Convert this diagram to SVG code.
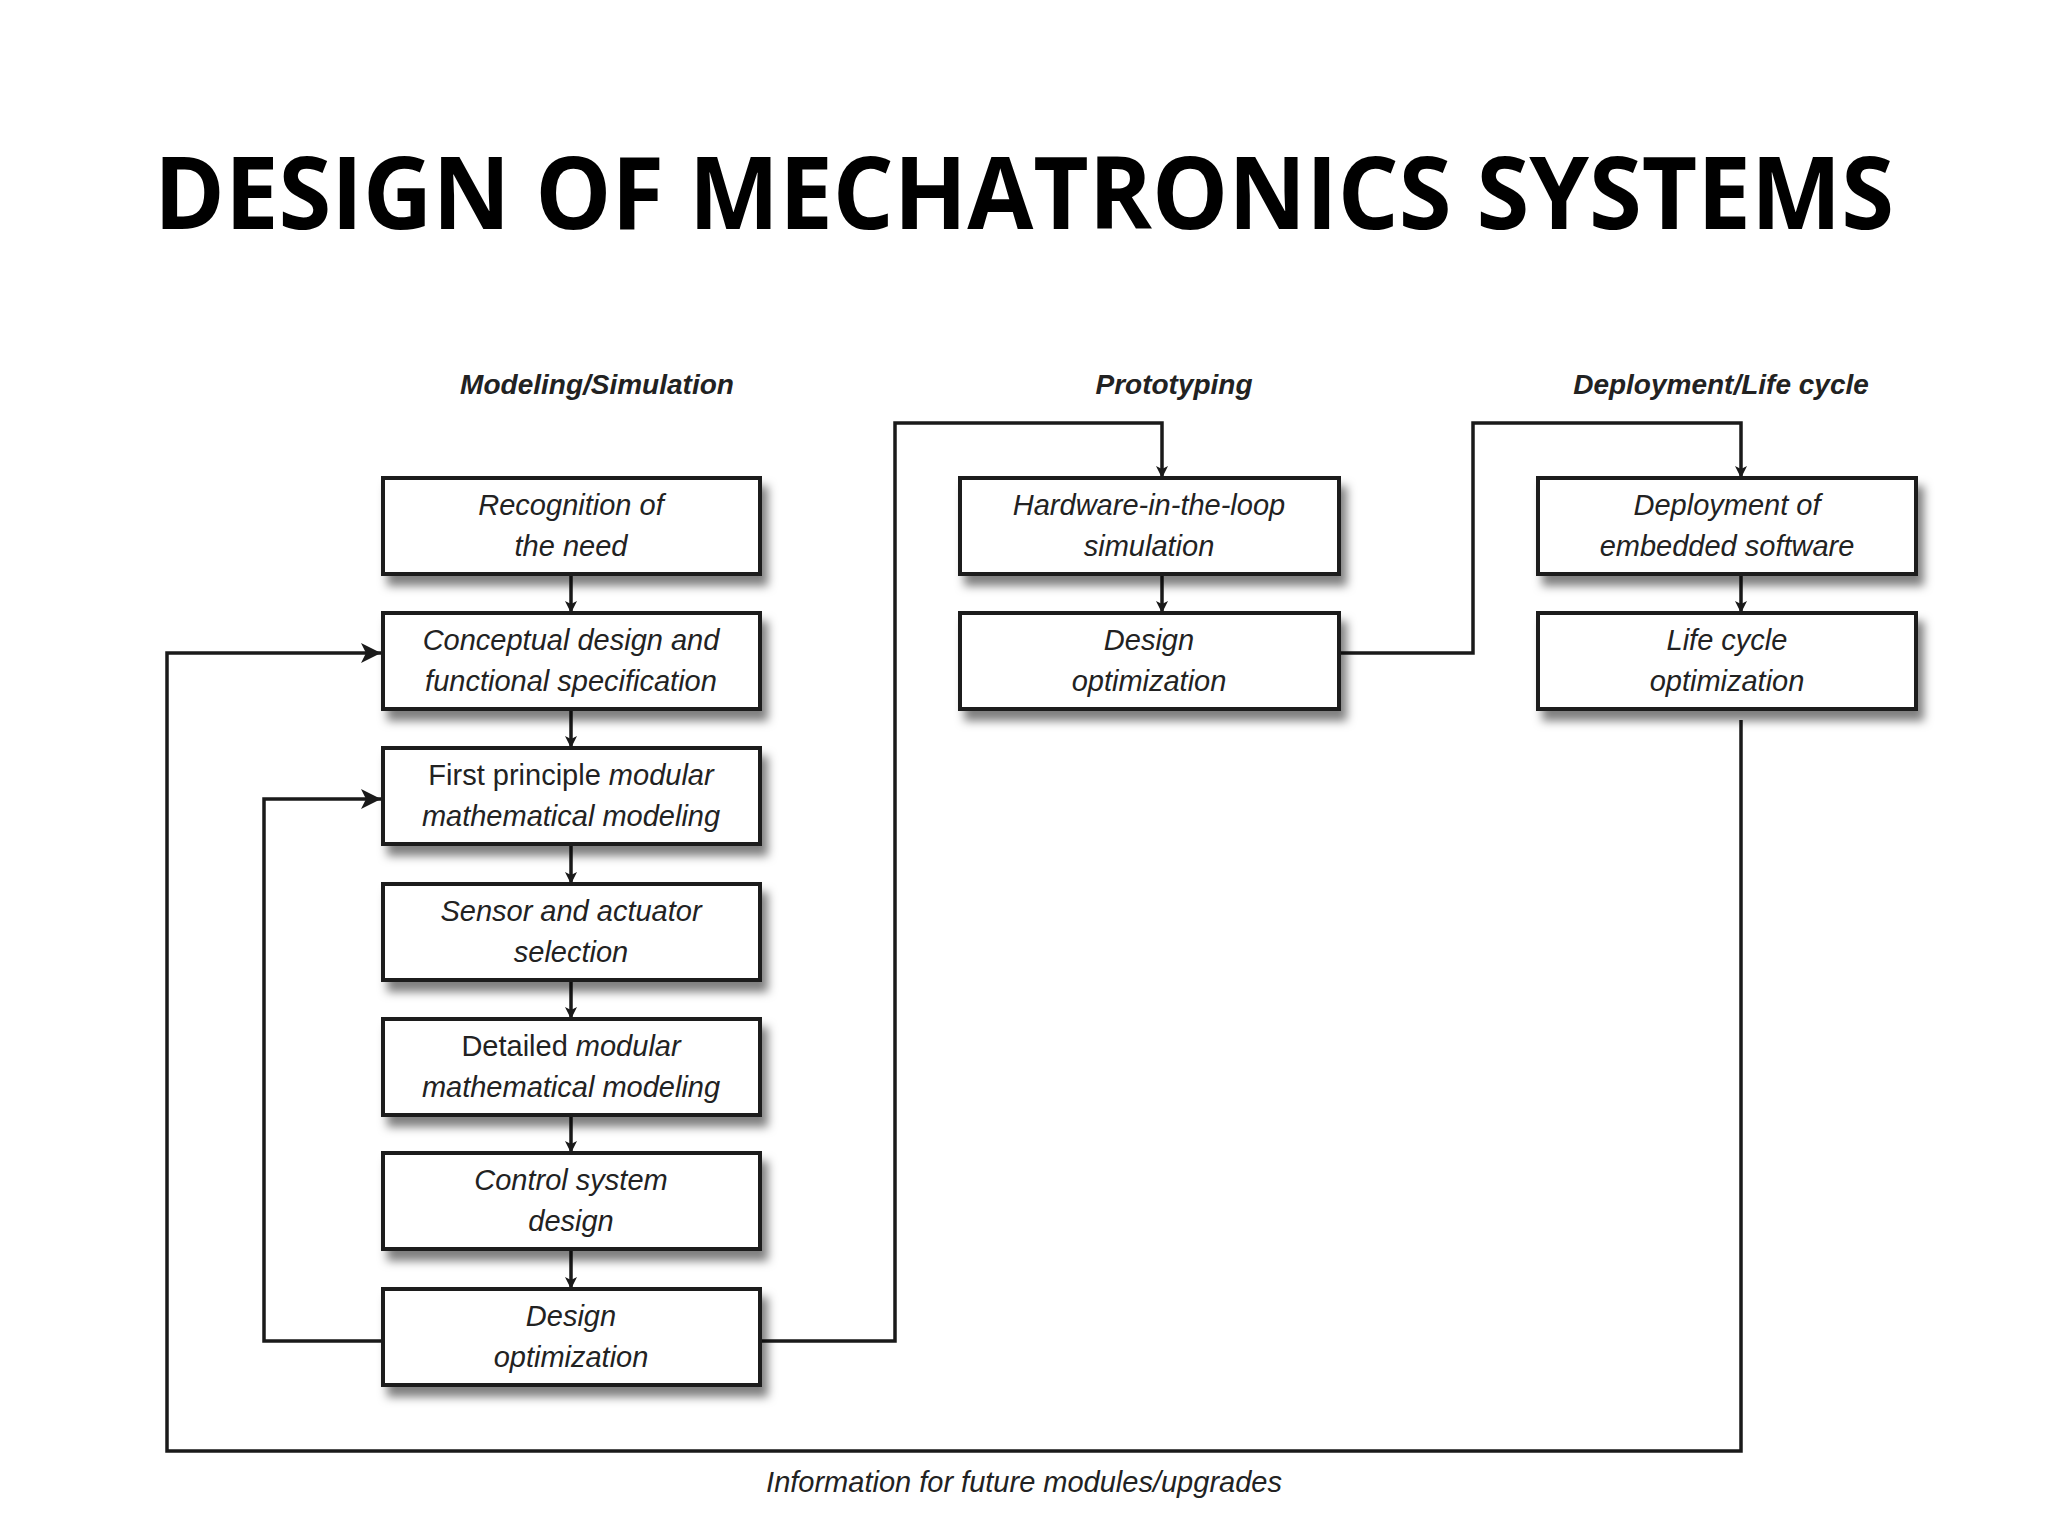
<svg xmlns="http://www.w3.org/2000/svg" width="2048" height="1536" viewBox="0 0 2048 1536">
<style>
.t{font-family:"Liberation Sans",Arial,sans-serif;font-style:italic;font-size:29px;fill:#222;text-anchor:middle}
.u{font-style:normal}
.h{font-family:"Liberation Sans",Arial,sans-serif;font-style:italic;font-weight:bold;font-size:28px;fill:#222;text-anchor:middle}
.b{fill:#fff;stroke:#1a1a1a;stroke-width:4;filter:url(#sh)}
.c{fill:none;stroke:#1a1a1a;stroke-width:3.5}
</style>
<defs>
<filter id="sh" x="-10%" y="-20%" width="130%" height="160%"><feDropShadow dx="6" dy="10" stdDeviation="5" flood-color="#000" flood-opacity="0.5"/></filter>
<marker id="a" viewBox="0 0 12 12" refX="12" refY="6" markerWidth="12" markerHeight="18" markerUnits="userSpaceOnUse" orient="auto"><path d="M0,0 L12,6 L0,12 L3,6 Z" fill="#1a1a1a"/></marker>
<marker id="A" viewBox="0 0 12 12" refX="12" refY="6" markerWidth="24" markerHeight="20" markerUnits="userSpaceOnUse" orient="auto"><path d="M0,0 L12,6 L0,12 L3,6 Z" fill="#1a1a1a"/></marker>
</defs>
<rect width="2048" height="1536" fill="#fff"/>
<text x="1024" y="229" font-family="Open Sans,Liberation Sans,Arial,sans-serif" font-weight="bold" font-size="100" text-anchor="middle" textLength="1740" lengthAdjust="spacingAndGlyphs">DESIGN OF MECHATRONICS SYSTEMS</text>
<text class="h" x="597" y="394">Modeling/Simulation</text>
<text class="h" x="1174" y="394">Prototyping</text>
<text class="h" x="1721" y="394">Deployment/Life cycle</text>
<g id="connectors">
<path class="c" d="M571,575 V613" marker-end="url(#a)"/>
<path class="c" d="M571,709 V748" marker-end="url(#a)"/>
<path class="c" d="M571,845 V884" marker-end="url(#a)"/>
<path class="c" d="M571,980 V1019" marker-end="url(#a)"/>
<path class="c" d="M571,1114 V1153" marker-end="url(#a)"/>
<path class="c" d="M571,1249 V1289" marker-end="url(#a)"/>
<path class="c" d="M1162,575 V613" marker-end="url(#a)"/>
<path class="c" d="M1741,575 V613" marker-end="url(#a)"/>
<path class="c" d="M760,1341 H895 V423 H1162 V478" marker-end="url(#a)"/>
<path class="c" d="M1339,653 H1473 V423 H1741 V478" marker-end="url(#a)"/>
<path class="c" d="M1741,720 V1451 H167 V653 H381" marker-end="url(#A)"/>
<path class="c" d="M383,1341 H264 V799 H381" marker-end="url(#A)"/>
</g>
<g id="n1"><rect class="b" x="383" y="478" width="377" height="96"/><text class="t" x="571" y="515">Recognition of</text><text class="t" x="571" y="556">the need</text></g>
<g id="n2"><rect class="b" x="383" y="613" width="377" height="96"/><text class="t" x="571" y="650">Conceptual design and</text><text class="t" x="571" y="691">functional specification</text></g>
<g id="n3"><rect class="b" x="383" y="748" width="377" height="96"/><text class="t" x="571" y="785"><tspan class="u">First principle</tspan> modular</text><text class="t" x="571" y="826">mathematical modeling</text></g>
<g id="n4"><rect class="b" x="383" y="884" width="377" height="96"/><text class="t" x="571" y="921">Sensor and actuator</text><text class="t" x="571" y="962">selection</text></g>
<g id="n5"><rect class="b" x="383" y="1019" width="377" height="96"/><text class="t" x="571" y="1056"><tspan class="u">Detailed</tspan> modular</text><text class="t" x="571" y="1097">mathematical modeling</text></g>
<g id="n6"><rect class="b" x="383" y="1153" width="377" height="96"/><text class="t" x="571" y="1190">Control system</text><text class="t" x="571" y="1231">design</text></g>
<g id="n7"><rect class="b" x="383" y="1289" width="377" height="96"/><text class="t" x="571" y="1326">Design</text><text class="t" x="571" y="1367">optimization</text></g>
<g id="n8"><rect class="b" x="960" y="478" width="379" height="96"/><text class="t" x="1149" y="515">Hardware-in-the-loop</text><text class="t" x="1149" y="556">simulation</text></g>
<g id="n9"><rect class="b" x="960" y="613" width="379" height="96"/><text class="t" x="1149" y="650">Design</text><text class="t" x="1149" y="691">optimization</text></g>
<g id="n10"><rect class="b" x="1538" y="478" width="378" height="96"/><text class="t" x="1727" y="515">Deployment of</text><text class="t" x="1727" y="556">embedded software</text></g>
<g id="n11"><rect class="b" x="1538" y="613" width="378" height="96"/><text class="t" x="1727" y="650">Life cycle</text><text class="t" x="1727" y="691">optimization</text></g>
<text class="t" x="1024" y="1492">Information for future modules/upgrades</text>
</svg>
